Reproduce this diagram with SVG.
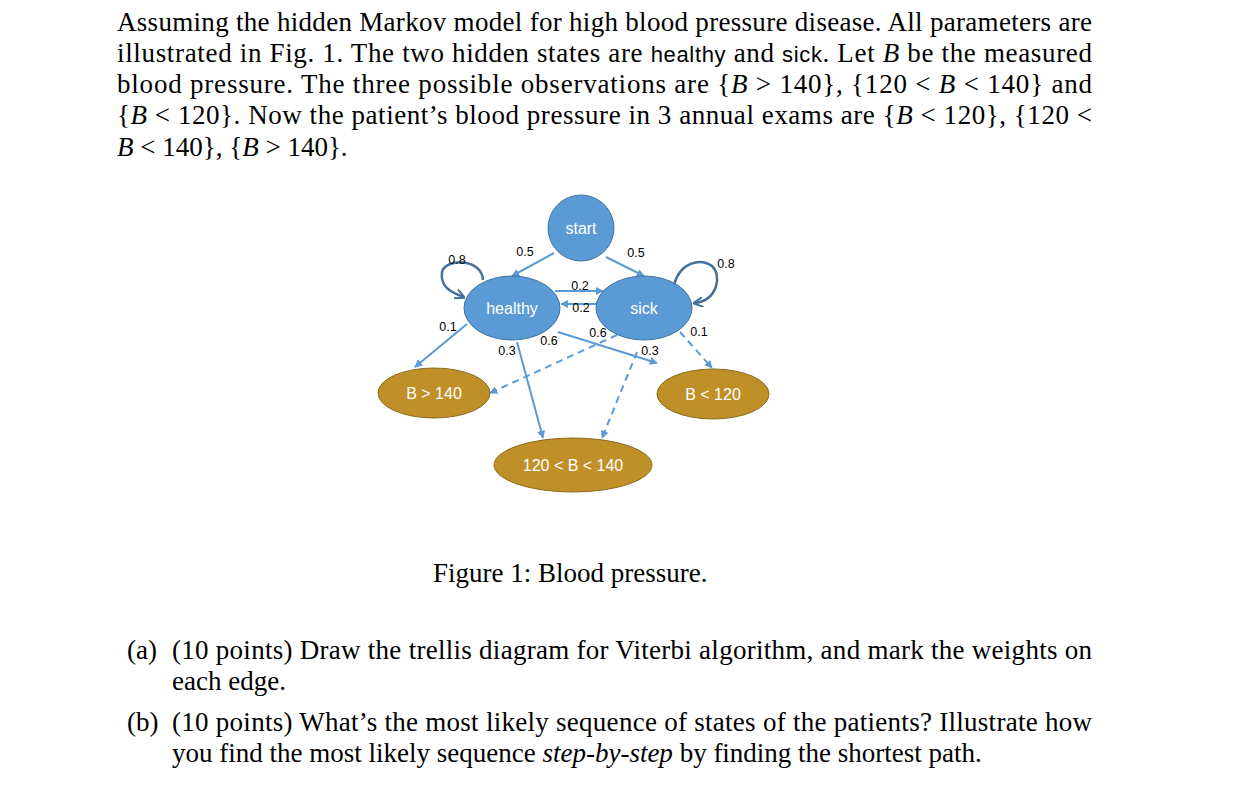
<svg xmlns="http://www.w3.org/2000/svg" width="1246" height="798" viewBox="0 0 1246 798">
<style>
.t{font-family:"Liberation Serif",serif;font-size:27px;fill:#000}
.i{font-style:italic}
.s{font-family:"Liberation Sans",sans-serif;font-size:22px}
.st{fill:#5b9bd5;stroke:#41719c;stroke-width:1}
.ob{fill:#bf9027;stroke:#8a6a1c;stroke-width:1}
.nl{font-family:"Liberation Sans",sans-serif;font-size:16px;fill:#fff;text-anchor:middle}
.el{font-family:"Liberation Sans",sans-serif;font-size:12.5px;fill:#000;text-anchor:middle}
.e{fill:none;stroke:#5b9bd5;stroke-width:2}
.d{stroke-dasharray:7,5}
.lp{fill:none;stroke:#41719c;stroke-width:2.5}
</style>
<defs>
<marker id="a" viewBox="0 0 10 10" refX="9" refY="5" markerWidth="4" markerHeight="4" orient="auto"><path d="M0,0L10,5L0,10z" fill="#5b9bd5"/></marker>
<marker id="b" viewBox="0 0 10 10" refX="8" refY="5" markerWidth="4" markerHeight="4" orient="auto"><path d="M0,0L10,5L0,10" fill="none" stroke="#41719c" stroke-width="2"/></marker>
</defs>
<rect width="1246" height="798" fill="#fff"/>
<g id="text">
<text class="t" x="117" y="31" textLength="975" lengthAdjust="spacing">Assuming the hidden Markov model for high blood pressure disease. All parameters are</text>
<text class="t" x="117" y="62" textLength="975" lengthAdjust="spacing">illustrated in Fig. 1. The two hidden states are <tspan class="s">healthy</tspan> and <tspan class="s">sick</tspan>. Let <tspan class="i">B</tspan> be the measured</text>
<text class="t" x="117" y="93" textLength="975" lengthAdjust="spacing">blood pressure. The three possible observations are {<tspan class="i">B</tspan> &gt; 140}, {120 &lt; <tspan class="i">B</tspan> &lt; 140} and</text>
<text class="t" x="117" y="124" textLength="975" lengthAdjust="spacing">{<tspan class="i">B</tspan> &lt; 120}. Now the patient’s blood pressure in 3 annual exams are {<tspan class="i">B</tspan> &lt; 120}, {120 &lt;</text>
<text class="t" x="117" y="156"><tspan class="i">B</tspan> &lt; 140}, {<tspan class="i">B</tspan> &gt; 140}.</text>
<text class="t" x="433" y="582">Figure 1: Blood pressure.</text>
<text class="t" x="127" y="659">(a)</text>
<text class="t" x="172" y="659" textLength="920" lengthAdjust="spacing">(10 points) Draw the trellis diagram for Viterbi algorithm, and mark the weights on</text>
<text class="t" x="172" y="690">each edge.</text>
<text class="t" x="127" y="731">(b)</text>
<text class="t" x="172" y="731" textLength="920" lengthAdjust="spacing">(10 points) What’s the most likely sequence of states of the patients? Illustrate how</text>
<text class="t" x="172" y="762">you find the most likely sequence <tspan class="i">step-by-step</tspan> by finding the shortest path.</text>
</g>
<g id="connectors">
<path class="e" marker-end="url(#a)" d="M554,253L512,276"/>
<path class="e" marker-end="url(#a)" d="M606,257L644,276"/>
<path class="e" marker-end="url(#a)" d="M555,291L603,291"/>
<path class="e" marker-end="url(#a)" d="M597,304L561,304"/>
<path class="lp" marker-end="url(#b)" d="M483,280C482,258 445,258 442,272C440,288 452,292 463,297"/>
<path class="lp" marker-end="url(#b)" d="M674,285C680,262 700,258 712,266C722,275 718,300 695,303"/>
<path class="e" marker-end="url(#a)" d="M467,324L415,367"/>
<path class="e" marker-end="url(#a)" d="M517,342L543,438"/>
<path class="e" marker-end="url(#a)" d="M558,332L657,363"/>
<path class="e d" marker-end="url(#a)" d="M617,335L490,393"/>
<path class="e d" marker-end="url(#a)" d="M637,352L602,438"/>
<path class="e d" marker-end="url(#a)" d="M680,332L712,368"/>
<text class="el" x="525" y="256">0.5</text>
<text class="el" x="636" y="257">0.5</text>
<text class="el" x="457" y="264">0.8</text>
<text class="el" x="726" y="268">0.8</text>
<text class="el" x="580" y="290">0.2</text>
<text class="el" x="581" y="312">0.2</text>
<text class="el" x="448" y="331">0.1</text>
<text class="el" x="507" y="355">0.3</text>
<text class="el" x="549" y="345">0.6</text>
<text class="el" x="598" y="337">0.6</text>
<text class="el" x="650" y="355">0.3</text>
<text class="el" x="699" y="336">0.1</text>
</g>
<g id="start"><circle class="st" cx="581" cy="228" r="33"/><text class="nl" x="581" y="234">start</text></g>
<g id="healthy"><ellipse class="st" cx="512" cy="308" rx="48" ry="32"/><text class="nl" x="512" y="314">healthy</text></g>
<g id="sick"><ellipse class="st" cx="644" cy="308" rx="48" ry="32"/><text class="nl" x="644" y="314">sick</text></g>
<g id="bgt140"><ellipse class="ob" cx="434" cy="393" rx="56" ry="25"/><text class="nl" x="434" y="399">B &gt; 140</text></g>
<g id="blt120"><ellipse class="ob" cx="713" cy="394" rx="56" ry="25"/><text class="nl" x="713" y="400">B &lt; 120</text></g>
<g id="bmid"><ellipse class="ob" cx="573" cy="465" rx="79" ry="27"/><text class="nl" x="573" y="471">120 &lt; B &lt; 140</text></g>
</svg>
